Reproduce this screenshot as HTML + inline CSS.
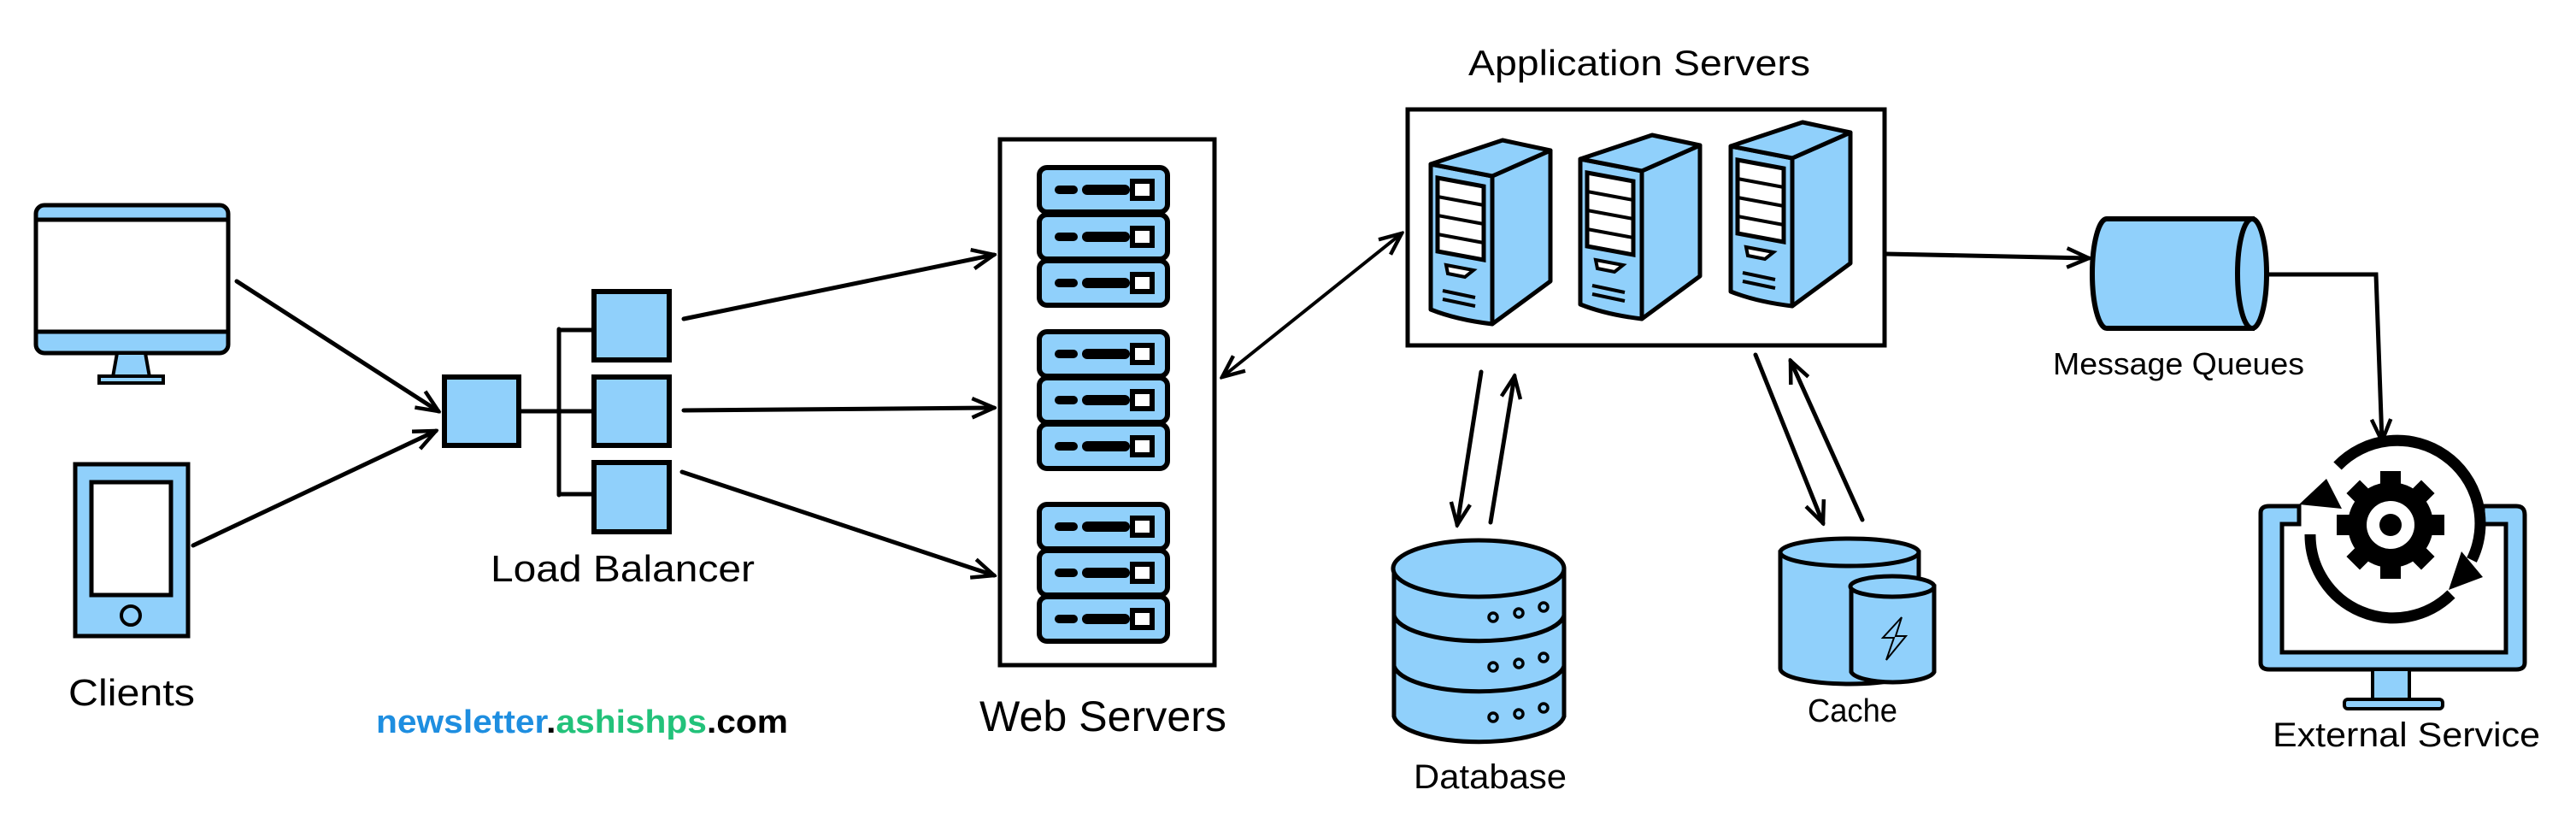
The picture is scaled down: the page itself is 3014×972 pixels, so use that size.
<!DOCTYPE html>
<html><head><meta charset="utf-8"><style>html,body{margin:0;padding:0;background:#fff}svg{display:block}</style></head>
<body>
<svg width="3014" height="972" viewBox="0 0 3014 972" xmlns="http://www.w3.org/2000/svg" font-family="Liberation Sans, sans-serif">
<defs>
<g id="unit">
<rect x="0" y="0" width="150" height="52" rx="9" fill="#90d0fb" stroke="#000" stroke-width="6"/>
<rect x="18" y="21" width="27" height="10" rx="5" fill="#000"/>
<rect x="50" y="20" width="56" height="12" rx="6" fill="#000"/>
<rect x="109" y="16" width="23" height="20" fill="#fff" stroke="#000" stroke-width="6"/>
</g>
<g id="tower">
<path d="M0,28 L72,42 L72,215 Q30,210 0,198 Z" fill="#90d0fb" stroke="#000" stroke-width="5" stroke-linejoin="round"/>
<path d="M72,42 L140,12 L140,165 L72,215 Z" fill="#90d0fb" stroke="#000" stroke-width="5" stroke-linejoin="round"/>
<path d="M0,28 L72,42 L140,12 L84,0 Z" fill="#90d0fb" stroke="#000" stroke-width="5" stroke-linejoin="round"/>
<path d="M8,44 L62,54 L62,140 L8,130 Z" fill="#fff" stroke="#000" stroke-width="5"/>
<path d="M8,66 L62,76 M8,88 L62,98 M8,110 L62,120" stroke="#000" stroke-width="4"/>
<path d="M18,146 L50,152 L40,160 L20,156 Z" fill="#fff" stroke="#000" stroke-width="4"/>
<path d="M14,176 L52,184 M14,186 L52,194" stroke="#000" stroke-width="4"/>
</g>
<marker id="ah" viewBox="0 0 20 20" refX="18" refY="10" markerWidth="32" markerHeight="32" markerUnits="userSpaceOnUse" orient="auto-start-reverse">
<path d="M2,3 L18,10 L2,17" fill="none" stroke="#000" stroke-width="2.8"/>
</marker>
</defs>

<g stroke="#000" stroke-width="5" fill="none" stroke-linecap="round">
<path d="M277,329 L513,481" marker-end="url(#ah)"/>
<path d="M226,638 L510,504" marker-end="url(#ah)"/>
<path d="M607,481 L695,481 M654,385 L654,579 M654,386 L695,386 M654,578 L695,578"/>
<path d="M800,373 L1163,298" marker-end="url(#ah)"/>
<path d="M800,480 L1163,477" marker-end="url(#ah)"/>
<path d="M798,552 L1163,673" marker-end="url(#ah)"/>
<path d="M1430,441 L1640,273" marker-start="url(#ah)" marker-end="url(#ah)" stroke-width="4"/>
<path d="M1733,435 L1705,614" marker-end="url(#ah)"/>
<path d="M1744,611 L1772,440" marker-end="url(#ah)"/>
<path d="M2054,415 L2133,612" marker-end="url(#ah)"/>
<path d="M2179,608 L2095,422" marker-end="url(#ah)"/>
<path d="M2207,297 L2444,302" marker-end="url(#ah)"/>
<path d="M2653,321 L2780,321 L2787,516" marker-end="url(#ah)"/>
</g>

<rect x="42" y="240" width="225" height="173" rx="10" fill="#90d0fb" stroke="#000" stroke-width="5"/>
<rect x="42" y="257" width="225" height="131" fill="#fff" stroke="#000" stroke-width="5"/>
<path d="M137,413 L170,413 L175,441 L132,441 Z" fill="#90d0fb" stroke="#000" stroke-width="4"/>
<rect x="116" y="440" width="75" height="8" fill="#90d0fb" stroke="#000" stroke-width="4"/>
<rect x="88" y="543" width="132" height="201" fill="#90d0fb" stroke="#000" stroke-width="5"/>
<rect x="107" y="564" width="93" height="132" fill="#fff" stroke="#000" stroke-width="5"/>
<circle cx="153" cy="720" r="11" fill="none" stroke="#000" stroke-width="4"/>

<g fill="#90d0fb" stroke="#000" stroke-width="6">
<rect x="520" y="441" width="87" height="80"/>
<rect x="695" y="341" width="88" height="80"/>
<rect x="695" y="441" width="88" height="80"/>
<rect x="695" y="541" width="88" height="81"/>
</g>

<rect x="1170" y="163" width="251" height="615" fill="none" stroke="#000" stroke-width="5"/>
<use href="#unit" x="1216" y="196"/><use href="#unit" x="1216" y="251"/><use href="#unit" x="1216" y="305"/>
<use href="#unit" x="1216" y="388"/><use href="#unit" x="1216" y="442"/><use href="#unit" x="1216" y="496"/>
<use href="#unit" x="1216" y="590"/><use href="#unit" x="1216" y="644"/><use href="#unit" x="1216" y="698"/>

<rect x="1647" y="128" width="558" height="276" fill="none" stroke="#000" stroke-width="5"/>
<use href="#tower" x="1674" y="164"/>
<use href="#tower" x="1849" y="158"/>
<use href="#tower" x="2025" y="143"/>

<g fill="#90d0fb" stroke="#000" stroke-width="5">
<path d="M1631,665 L1631,838 A100,33 0 0 0 1830,838 L1830,665 A100,33 0 0 0 1631,665 Z"/>
<ellipse cx="1730" cy="665" rx="100" ry="33"/>
<path d="M1631,720 A100,33 0 0 0 1830,720 M1631,779 A100,33 0 0 0 1830,779" fill="none"/>
</g>
<g fill="none" stroke="#000" stroke-width="3.5">
<circle cx="1747" cy="722" r="5"/><circle cx="1777" cy="717" r="5"/><circle cx="1806" cy="710" r="5"/>
<circle cx="1747" cy="780" r="5"/><circle cx="1777" cy="776" r="5"/><circle cx="1806" cy="769" r="5"/>
<circle cx="1747" cy="839" r="5"/><circle cx="1777" cy="835" r="5"/><circle cx="1806" cy="828" r="5"/>
</g>

<g fill="#90d0fb" stroke="#000" stroke-width="5">
<path d="M2083,646 L2083,782 A81,18 0 0 0 2245,782 L2245,646 Z"/>
<ellipse cx="2164" cy="646" rx="81" ry="16"/>
<path d="M2166,686 L2166,786 A49,14 0 0 0 2263,786 L2263,686 Z"/>
<ellipse cx="2214" cy="686" rx="49" ry="12"/>
</g>
<path d="M2225,722 L2203,746 L2216,746 L2207,772 L2230,744 L2218,744 Z" fill="none" stroke="#000" stroke-width="2"/>

<g fill="#90d0fb" stroke="#000" stroke-width="6">
<path d="M2465,256 L2635,256 L2635,384 L2465,384 A17,64 0 0 1 2465,256 Z"/>
<ellipse cx="2635" cy="320" rx="17" ry="64"/>
</g>

<path d="M2645,600 Q2645,592 2655,592 L2690,592 L2690,613 L2670,613 L2670,763 L2932,763 L2932,613 L2905,613 L2905,592 L2944,592 Q2954,592 2954,602 L2954,775 Q2954,783 2944,783 L2655,783 Q2645,783 2645,775 Z" fill="#90d0fb" stroke="#000" stroke-width="5"/>
<rect x="2776" y="783" width="43" height="35" fill="#90d0fb" stroke="#000" stroke-width="4"/>
<rect x="2743" y="818" width="115" height="11" rx="4" fill="#90d0fb" stroke="#000" stroke-width="4"/>
<g fill="none" stroke="#000" stroke-width="13">
<path d="M2735,545 A97,97 0 0 1 2892,655"/>
<path d="M2868,695 A97,97 0 0 1 2703,625"/>
</g>
<path d="M2722,560 L2690,590 L2740,595 Z M2880,645 L2905,675 L2865,690 Z" fill="#000"/>
<g fill="#000">
<circle cx="2797" cy="614" r="50"/>
<rect x="2785" y="551" width="24" height="20"/><rect x="2785" y="657" width="24" height="20"/>
<rect x="2734" y="602" width="20" height="24"/><rect x="2840" y="602" width="20" height="24"/>
<rect x="2750" y="566" width="22" height="22" transform="rotate(45 2761 577)"/>
<rect x="2822" y="566" width="22" height="22" transform="rotate(45 2833 577)"/>
<rect x="2750" y="640" width="22" height="22" transform="rotate(45 2761 651)"/>
<rect x="2822" y="640" width="22" height="22" transform="rotate(45 2833 651)"/>
</g>
<circle cx="2797" cy="614" r="28" fill="#fff"/>
<circle cx="2797" cy="614" r="13" fill="#000"/>

<g fill="#000">
<text x="80" y="825" font-size="44" textLength="148" lengthAdjust="spacingAndGlyphs">Clients</text>
<text x="574" y="680" font-size="44" textLength="309" lengthAdjust="spacingAndGlyphs">Load Balancer</text>
<text x="1146" y="855" font-size="50" textLength="289" lengthAdjust="spacingAndGlyphs">Web Servers</text>
<text x="1718" y="88" font-size="42" textLength="400" lengthAdjust="spacingAndGlyphs">Application Servers</text>
<text x="1654" y="922" font-size="40" textLength="179" lengthAdjust="spacingAndGlyphs">Database</text>
<text x="2115" y="844" font-size="38" textLength="105" lengthAdjust="spacingAndGlyphs">Cache</text>
<text x="2402" y="438" font-size="36" textLength="294" lengthAdjust="spacingAndGlyphs">Message Queues</text>
<text x="2659" y="873" font-size="40" textLength="313" lengthAdjust="spacingAndGlyphs">External Service</text>
</g>
<text x="440" y="857" font-size="38" font-weight="bold" textLength="482" lengthAdjust="spacingAndGlyphs"><tspan fill="#1e8ee0">newsletter</tspan><tspan fill="#000">.</tspan><tspan fill="#22c27a">ashishps</tspan><tspan fill="#000">.com</tspan></text>
</svg>
</body></html>
